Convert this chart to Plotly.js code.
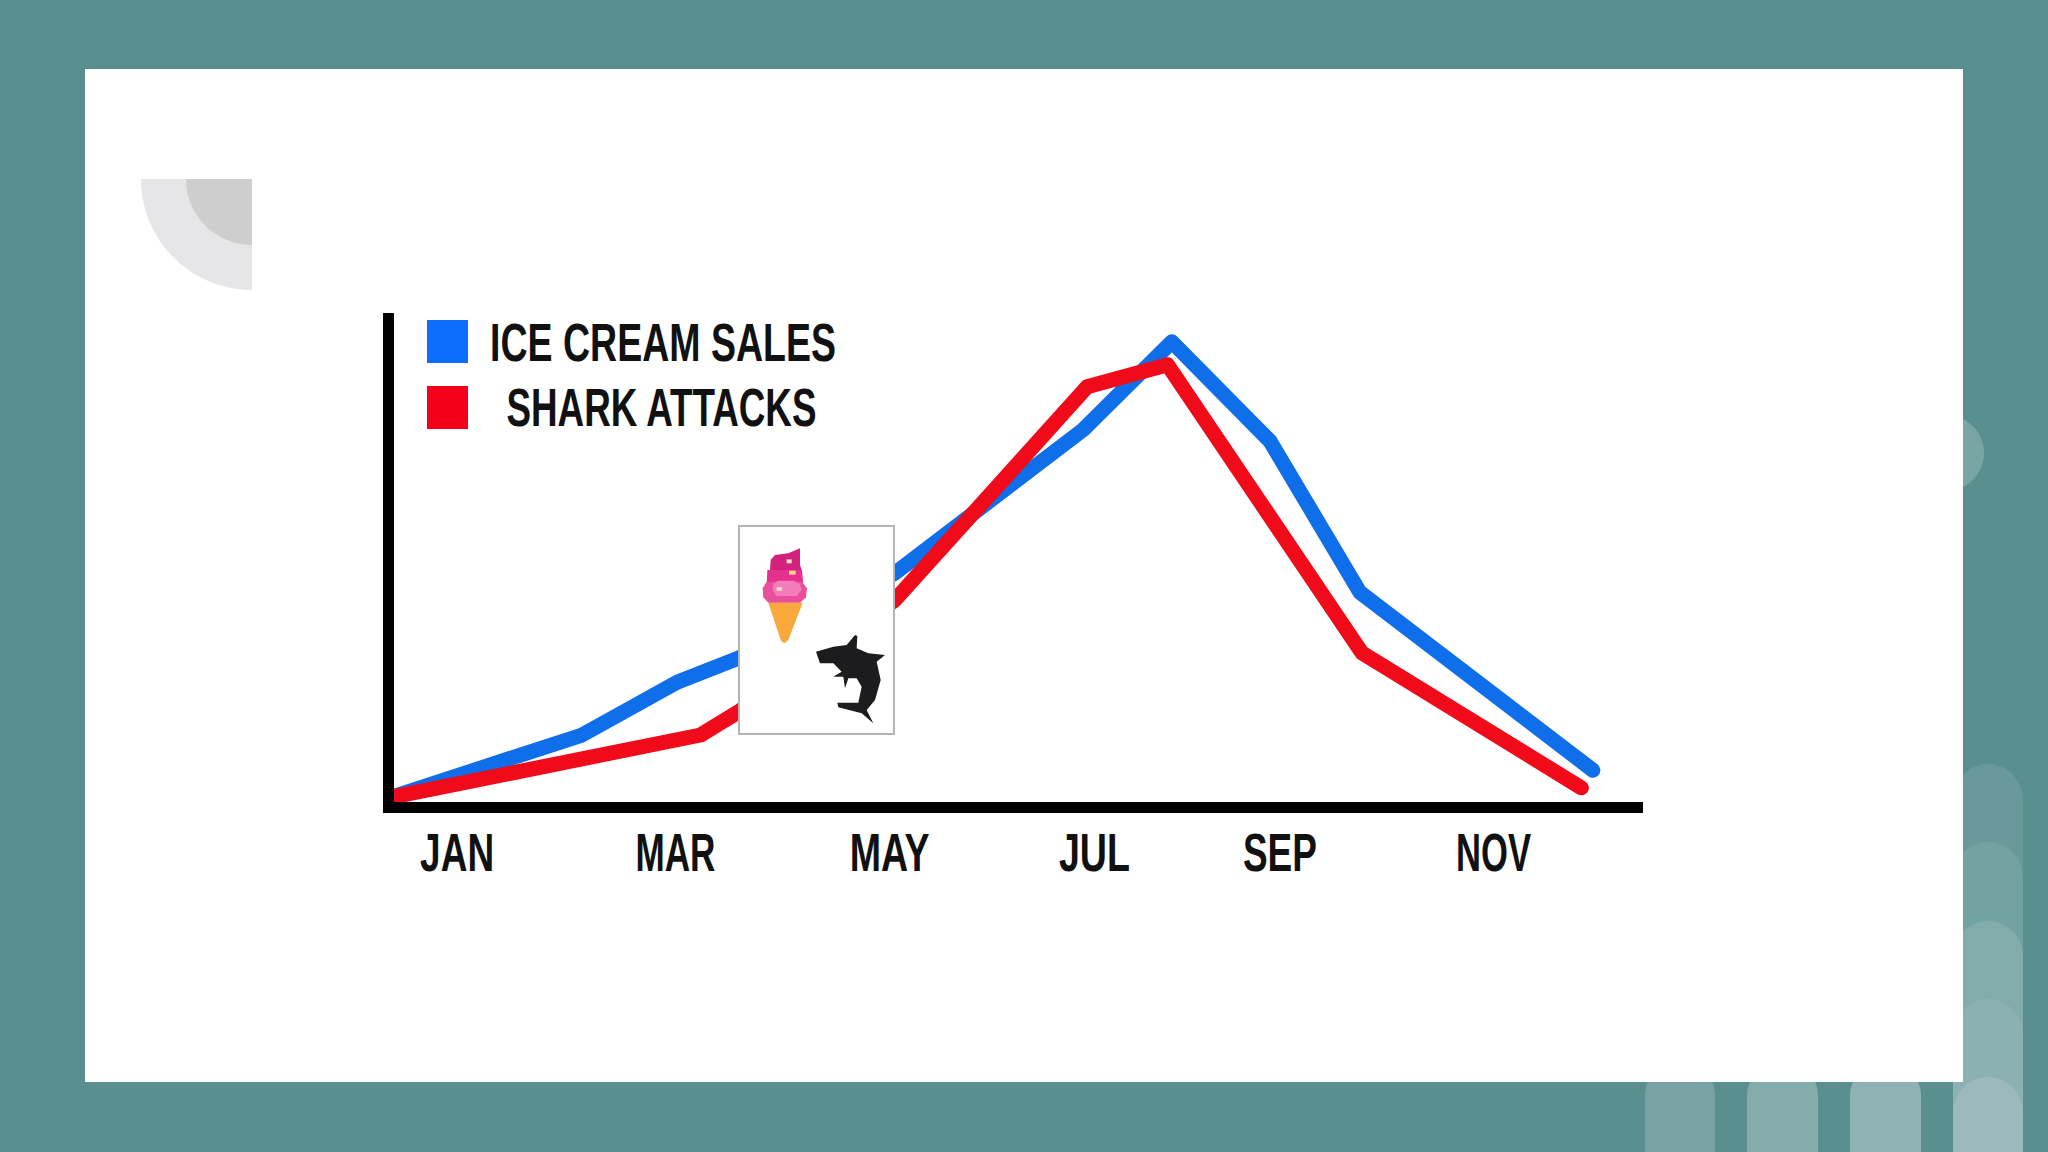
<!DOCTYPE html>
<html>
<head>
<meta charset="utf-8">
<script src="https://cdn.plot.ly/plotly-3.0.1.min.js"></script>
<style>html,body{margin:0;padding:0;background:#5A8F90;overflow:hidden}#chart{width:2048px;height:1152px}
#chart .js-line{stroke-linecap:round;stroke-linejoin:round}</style>
</head>
<body>
<div id="chart"></div>
<script>
// Data: x is position in months (1 = JAN), y is relative level 0-100
const seriesNames = ["ICE CREAM SALES", "SHARK ATTACKS"];
const iceCreamMonths = [0.375, 2.195, 3.105, 3.69, 5.19, 6.99, 7.84, 8.78, 9.64, 11.87];
const iceCreamValues = [1, 13.7, 24.5, 29.4, 46.8, 76.1, 94.1, 73.8, 42.9, 6.5];
const sharkMonths = [0.375, 2.2, 3.33, 3.69, 5.19, 7.03, 7.8, 9.66, 11.76];
const sharkValues = [1, 9.2, 13.7, 18.4, 41.3, 84.9, 89.4, 30.5, 2.9];
const tickMonths = [1, 3.09, 5.14, 7.1, 8.875, 10.92];
const tickLabels = ["JAN", "MAR", "MAY", "JUL", "SEP", "NOV"];

const W = 2048, H = 1152;
const plot = {l: 394, r: 1643, t: 313, b: 802};
const px = x => ((x - plot.l) / (plot.r - plot.l)).toFixed(5);
const py = y => ((plot.b - y) / (plot.b - plot.t)).toFixed(5);
function poly(pts) { return 'M' + pts.map(p => px(p[0]) + ',' + py(p[1])).join('L') + 'Z'; }
function pathShape(path, fill, layer, extra) {
  return Object.assign({type: 'path', xref: 'paper', yref: 'paper', path, fillcolor: fill, line: {width: 0}, layer: layer || 'below'}, extra || {});
}
function rectShape(x0, y0, x1, y1, fill, layer, line) {
  return {type: 'rect', xref: 'paper', yref: 'paper', x0: px(x0), x1: px(x1), y0: py(y0), y1: py(y1),
    fillcolor: fill, line: line || {width: 0}, layer: layer || 'below'};
}
const K = 0.5523;
function curve(a, b, c, d, e, f) { return 'C' + px(a) + ',' + py(b) + ' ' + px(c) + ',' + py(d) + ' ' + px(e) + ',' + py(f); }
function quarter(cx, cy, r) { // lower-left quarter disc
  return 'M' + px(cx) + ',' + py(cy) + 'L' + px(cx - r) + ',' + py(cy) +
    curve(cx - r, cy + K * r, cx - K * r, cy + r, cx, cy + r) + 'Z';
}
function disc(cx, cy, rx, ry) {
  return 'M' + px(cx - rx) + ',' + py(cy) +
    curve(cx - rx, cy - K * ry, cx - K * rx, cy - ry, cx, cy - ry) +
    curve(cx + K * rx, cy - ry, cx + rx, cy - K * ry, cx + rx, cy) +
    curve(cx + rx, cy + K * ry, cx + K * rx, cy + ry, cx, cy + ry) +
    curve(cx - K * rx, cy + ry, cx - rx, cy + K * ry, cx - rx, cy) + 'Z';
}
function column(x0, x1, top, bottom, bulge) {
  const mid = (x0 + x1) / 2, hw = (x1 - x0) / 2;
  return 'M' + px(x0) + ',' + py(bottom) + 'L' + px(x0) + ',' + py(top + bulge) +
    curve(x0, top + bulge * 0.45, mid - hw * K, top, mid, top) +
    curve(mid + hw * K, top, x1, top + bulge * 0.45, x1, top + bulge) +
    'L' + px(x1) + ',' + py(bottom) + 'Z';
}
const z = p => [720 + p[0] / 3, 510 + p[1] / 3];

const shapes = [
  // background decoration behind the card
  pathShape(disc(1946, 453, 38, 38), '#79A5A5'),
  pathShape(column(1953, 2023, 764, 1152, 36), '#69999A'),
  pathShape(column(1953, 2023, 842, 1152, 36), '#73A2A3'),
  pathShape(column(1953, 2023, 921, 1152, 36), '#82ABAB'),
  pathShape(column(1953, 2023, 999, 1152, 36), '#8CB1B2'),
  pathShape(column(1953, 2023, 1077, 1152, 36), '#9CB9BC'),
  pathShape(column(1645, 1715, 1060, 1152, 36), '#78A2A4'),
  pathShape(column(1747, 1818, 1060, 1152, 36), '#84ACAB'),
  pathShape(column(1850, 1921, 1060, 1152, 36), '#8FB2B3'),
  // white card
  rectShape(85, 69, 1963, 1082, '#FFFFFF'),
  // corner ornament
  pathShape(quarter(252, 179, 111), '#E6E6E8'),
  pathShape(quarter(252, 179, 66), '#CECECF'),
  // legend swatches
  rectShape(427, 320, 468, 363, '#0D6EFD'),
  rectShape(427, 386, 468, 429, '#F40018'),
  // inset picture over the lines
  rectShape(739, 526, 894, 734, '#FFFFFF', 'above', {color: '#B4B4B4', width: 2}),
  // ice cream cone
  pathShape(poly([[145,278],[248,278],[205,390],[193,400],[183,392]].map(z)), '#F9A83C', 'above'),
  pathShape(poly([[150,180],[152,150],[165,135],[205,130],[240,115],[240,165],[246,182]].map(z)), '#D3217E', 'above'),
  pathShape(poly([[142,180],[246,180],[250,225],[140,225]].map(z)), '#E6308F', 'above'),
  pathShape(poly([[128,235],[140,215],[245,215],[261,235],[258,262],[240,278],[145,278],[130,262]].map(z)), '#EA4F9F', 'above'),
  pathShape(poly([[160,222],[158,240],[170,258],[230,258],[245,240],[240,222],[220,212],[175,212]].map(z)), '#F27DBB', 'above'),
  rectShape(z([200,148])[0], z([200,148])[1], z([215,160])[0], z([215,160])[1], '#F7E6C4', 'above'),
  rectShape(z([207,182])[0], z([207,182])[1], z([227,194])[0], z([227,194])[1], '#F7D48A', 'above'),
  rectShape(z([170,232])[0], z([170,232])[1], z([186,242])[0], z([186,242])[1], '#F7E6C4', 'above'),
  // shark
  pathShape(poly([[288,425],[340,410],[380,405],[405,375],[412,378],[410,415],[445,430],[495,435],[470,455],[482,510],[465,570],[440,600],[460,640],[425,610],[355,592],[352,578],[415,578],[425,530],[410,505],[385,505],[375,535],[370,500],[340,500],[365,485],[340,460],[300,460]].map(z)), '#1C1C1E', 'above')
];

const textFont = {family: '"Liberation Sans Narrow","Liberation Sans",sans-serif', color: '#111111', size: 54, weight: 700};

const traces = [
  {x: iceCreamMonths, y: iceCreamValues, name: seriesNames[0], mode: 'lines', cliponaxis: false,
   line: {color: '#0F6FEB', width: 15}, showlegend: false, hoverinfo: 'skip'},
  {x: sharkMonths, y: sharkValues, name: seriesNames[1], mode: 'lines', cliponaxis: false,
   line: {color: '#F00A1A', width: 15}, showlegend: false, hoverinfo: 'skip'}
];

const layout = {
  width: W, height: H,
  margin: {l: plot.l, r: W - plot.r, t: plot.t, b: H - plot.b, pad: 0},
  paper_bgcolor: '#5A8F90',
  plot_bgcolor: 'rgba(0,0,0,0)',
  showlegend: false,
  xaxis: {range: [0.396, 12.35], tickmode: 'array', tickvals: tickMonths, ticktext: tickLabels, ticks: '',
    showgrid: false, zeroline: false, showline: true, linecolor: '#000000', linewidth: 11, tickfont: textFont,
    ticklabelstandoff: -7},
  yaxis: {range: [0, 100], showticklabels: false, ticks: '', showgrid: false, zeroline: false,
    showline: true, linecolor: '#000000', linewidth: 11},
  annotations: [
    {xref: 'paper', yref: 'paper', x: px(663), y: py(342), xanchor: 'center', yanchor: 'middle', showarrow: false, text: seriesNames[0], font: textFont},
    {xref: 'paper', yref: 'paper', x: px(662), y: py(407), xanchor: 'center', yanchor: 'middle', showarrow: false, text: seriesNames[1], font: textFont}
  ],
  shapes
};

const textWidths = {"ICE CREAM SALES": 346, "SHARK ATTACKS": 310, JAN: 74, MAR: 80, MAY: 80, JUL: 71, SEP: 74, NOV: 75};
Plotly.newPlot('chart', traces, layout, {displayModeBar: false, staticPlot: true}).then(() => {
  document.querySelectorAll('#chart .annotation-text, #chart .xtick text').forEach(t => {
    const w = textWidths[t.textContent.trim()];
    if (w) { t.setAttribute('textLength', w); t.setAttribute('lengthAdjust', 'spacingAndGlyphs'); }
  });
});
</script>
</body>
</html>
